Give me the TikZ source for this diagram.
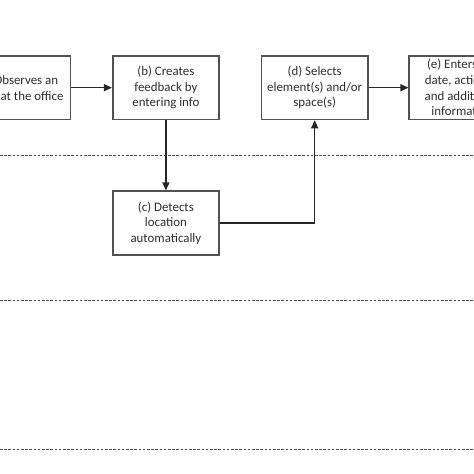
\documentclass[tikz,border=0pt]{standalone}
\usepackage{fontspec}
\setmainfont{Carlito}
\usetikzlibrary{arrows.meta}
\begin{document}
\begin{tikzpicture}[x=1pt,y=-1pt,
  stepbox/.style={draw=black!68, line width=1.6pt, fill=white, rectangle,
    minimum width=106.3pt, minimum height=63.5pt, align=center, inner sep=1pt,
    font=\fontsize{12.9}{15.6}\selectfont, text=black!82},
  conn/.style={draw=black!85, line width=1.4pt, -{Triangle[length=8pt,width=7pt]}},
  lane/.style={draw=black!70, line width=0.9pt, dash pattern=on 2.6pt off 1.6pt}]
\useasboundingbox (0,0) rectangle (474,474);
\clip (0,0) rectangle (474,474);
\fill[white] (0,0) rectangle (474,474);
\coordinate (l1a) at (0,155); \coordinate (l1b) at (474,155);
\coordinate (l2a) at (0,300); \coordinate (l2b) at (474,300);
\coordinate (l3a) at (0,449); \coordinate (l3b) at (474,449);
\draw[lane] (l1a) -- (l1b);
\draw[lane] (l2a) -- (l2b);
\draw[lane] (l3a) -- (l3b);
\node[stepbox] (a) at (17.5,87.7) {(a) Observes an\\issue at the office};
\node[stepbox] (b) at (165.9,87.7) {(b) Creates\\feedback by\\entering info};
\node[stepbox] (d) at (314.7,87.7) {(d) Selects\\element(s) and/or\\space(s)};
\node[stepbox] (e) at (462.3,87.7) {(e) Enters the\\date, action(s)\\and additional\\information};
\node[stepbox] (c) at (165.9,223) {(c) Detects\\location\\automatically};
\draw[conn] (a) -- (b);
\draw[conn] (b) -- (c);
\draw[conn] (c.east) -| (d.south);
\draw[conn] (d) -- (e);
\end{tikzpicture}
\end{document}
